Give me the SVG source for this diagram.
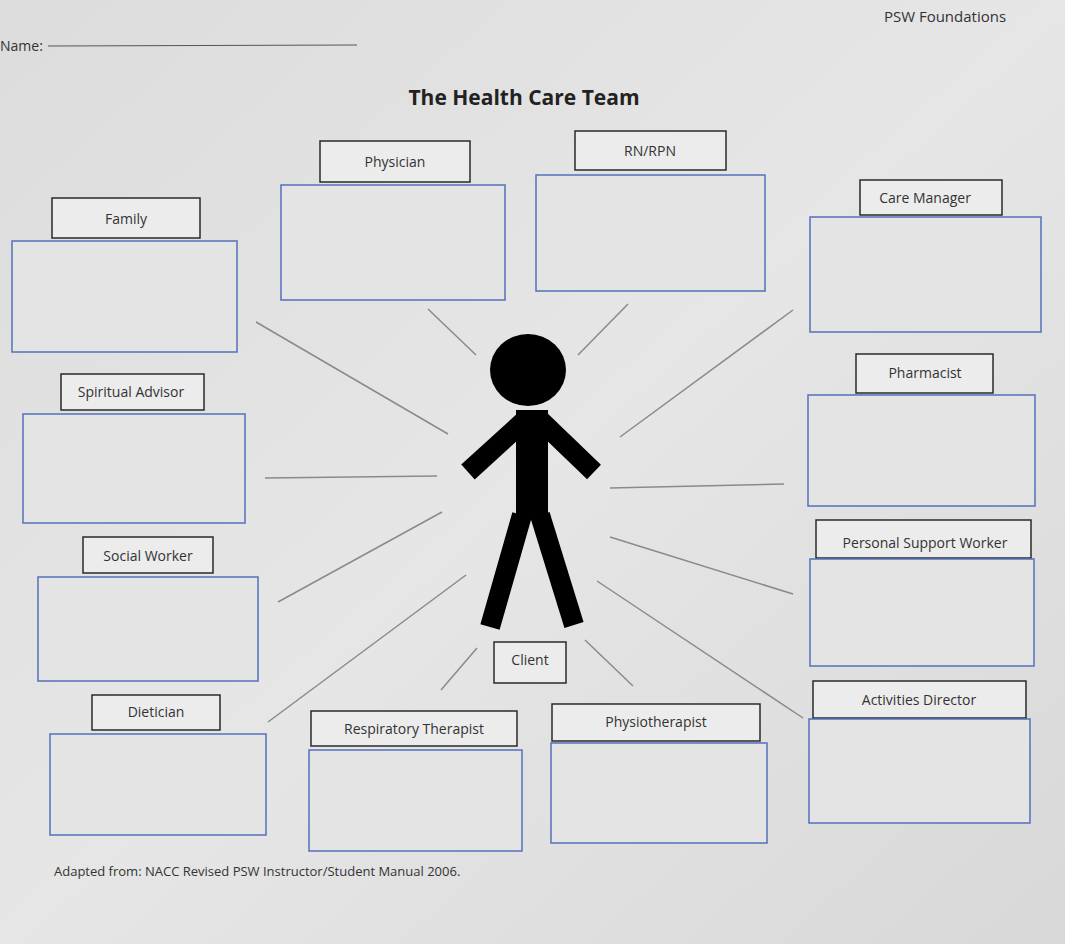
<svg xmlns="http://www.w3.org/2000/svg" width="1065" height="944" viewBox="0 0 1065 944">
<defs>
<linearGradient id="bg" x1="0" y1="0" x2="1" y2="1"><stop offset="0" stop-color="#dcdcdc"/><stop offset="0.5" stop-color="#e6e6e6"/><stop offset="1" stop-color="#d8d8d8"/></linearGradient>
</defs>
<style>
text{font-family:"Open Sans","Liberation Sans",sans-serif;fill:#333}
.lab{fill:#ececec;stroke:#2a2a2a;stroke-width:1.5}
.ans{fill:#e4e4e4;stroke:#5470b8;stroke-width:1.5}
.lt{font-size:14px;text-anchor:middle}
.con line{stroke:#8a8a8a;stroke-width:1.5}
.fig{stroke:#000;stroke-width:20;fill:none;stroke-linecap:butt}
</style>
<rect width="1065" height="944" fill="url(#bg)"/>
<text x="945" y="22" font-size="15" text-anchor="middle">PSW Foundations</text>
<text x="0" y="51" font-size="14">Name:</text>
<line x1="48" y1="46" x2="357" y2="45" stroke="#555" stroke-width="1"/>
<text x="524" y="105" font-size="21" font-weight="bold" text-anchor="middle" style="fill:#222">The Health Care Team</text>
<g class="con">
<line x1="256" y1="322" x2="448" y2="434"/>
<line x1="428" y1="309" x2="476" y2="355"/>
<line x1="578" y1="355" x2="628" y2="304"/>
<line x1="620" y1="437" x2="793" y2="310"/>
<line x1="265" y1="478" x2="437" y2="476"/>
<line x1="610" y1="488" x2="784" y2="484"/>
<line x1="278" y1="602" x2="442" y2="512"/>
<line x1="610" y1="537" x2="793" y2="594"/>
<line x1="268" y1="722" x2="466" y2="575"/>
<line x1="597" y1="581" x2="803" y2="718"/>
<line x1="441" y1="690" x2="477" y2="648"/>
<line x1="585" y1="640" x2="633" y2="686"/>
</g>
<g id="client-figure">
<ellipse cx="528" cy="370" rx="38" ry="36" fill="#000"/>
<rect x="516" y="410" width="32" height="108" fill="#000"/>
<polyline class="fig" points="468,472 525,420 540,420 594,472" stroke-linejoin="miter"/>
<line class="fig" x1="522" y1="515" x2="490" y2="627"/>
<line class="fig" x1="540" y1="515" x2="574" y2="625"/>
</g>
<g id="family"><rect class="lab" x="52" y="198" width="148" height="40"/><text class="lt" x="126" y="224">Family</text><rect class="ans" x="12" y="241" width="225" height="111"/></g>
<g id="physician"><rect class="lab" x="320" y="141" width="150" height="41"/><text class="lt" x="395" y="167">Physician</text><rect class="ans" x="281" y="185" width="224" height="115"/></g>
<g id="rnrpn"><rect class="lab" x="575" y="131" width="151" height="39"/><text class="lt" x="650" y="156">RN/RPN</text><rect class="ans" x="536" y="175" width="229" height="116"/></g>
<g id="care-manager"><rect class="lab" x="860" y="180" width="142" height="35"/><text class="lt" x="925" y="203">Care Manager</text><rect class="ans" x="810" y="217" width="231" height="115"/></g>
<g id="spiritual"><rect class="lab" x="61" y="374" width="143" height="36"/><text class="lt" x="131" y="397">Spiritual Advisor</text><rect class="ans" x="23" y="414" width="222" height="109"/></g>
<g id="pharmacist"><rect class="lab" x="856" y="354" width="137" height="39"/><text class="lt" x="925" y="378">Pharmacist</text><rect class="ans" x="808" y="395" width="227" height="111"/></g>
<g id="social"><rect class="lab" x="83" y="537" width="130" height="36"/><text class="lt" x="148" y="561">Social Worker</text><rect class="ans" x="38" y="577" width="220" height="104"/></g>
<g id="psw"><rect class="lab" x="816" y="520" width="215" height="38"/><text class="lt" x="925" y="548">Personal Support Worker</text><rect class="ans" x="810" y="559" width="224" height="107"/></g>
<g id="client"><rect class="lab" x="494" y="642" width="72" height="41"/><text class="lt" x="530" y="665">Client</text></g>
<g id="dietician"><rect class="lab" x="92" y="695" width="128" height="35"/><text class="lt" x="156" y="717">Dietician</text><rect class="ans" x="50" y="734" width="216" height="101"/></g>
<g id="respiratory"><rect class="lab" x="311" y="711" width="206" height="35"/><text class="lt" x="414" y="734">Respiratory Therapist</text><rect class="ans" x="309" y="750" width="213" height="101"/></g>
<g id="physio"><rect class="lab" x="552" y="704" width="208" height="37"/><text class="lt" x="656" y="727">Physiotherapist</text><rect class="ans" x="551" y="743" width="216" height="100"/></g>
<g id="activities"><rect class="lab" x="813" y="681" width="213" height="37"/><text class="lt" x="919" y="705">Activities Director</text><rect class="ans" x="809" y="719" width="221" height="104"/></g>
<text x="54" y="876" font-size="13">Adapted from: NACC Revised PSW Instructor/Student Manual 2006.</text>
</svg>
